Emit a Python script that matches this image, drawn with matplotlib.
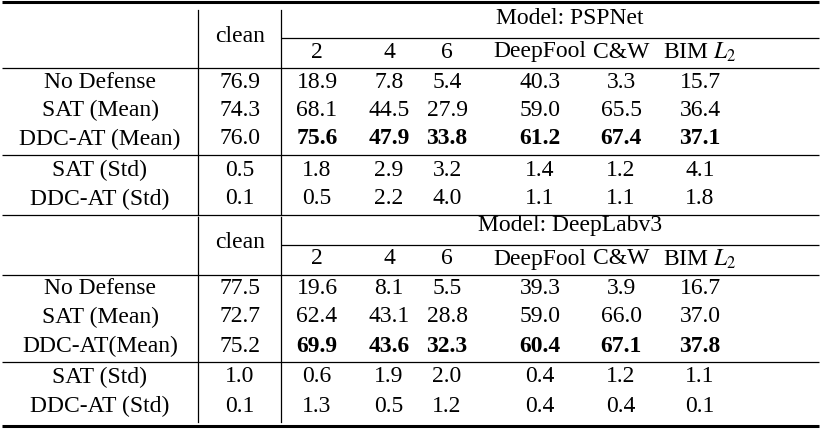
import matplotlib.pyplot as plt

plt.rcParams['font.family'] = ['Liberation Serif', 'DejaVu Serif']
plt.rcParams['mathtext.fontset'] = 'stix'

col_labels = ["2", "4", "6", "DeepFool", "C&W", r"BIM $L_2$"]
models = ["PSPNet", "DeepLabv3"]

psp_rows = ["No Defense", "SAT (Mean)", "DDC-AT (Mean)", "SAT (Std)", "DDC-AT (Std)"]
psp_vals = [
    ["76.9", "18.9", "7.8", "5.4", "40.3", "3.3", "15.7"],
    ["74.3", "68.1", "44.5", "27.9", "59.0", "65.5", "36.4"],
    ["76.0", "75.6", "47.9", "33.8", "61.2", "67.4", "37.1"],
    ["0.5", "1.8", "2.9", "3.2", "1.4", "1.2", "4.1"],
    ["0.1", "0.5", "2.2", "4.0", "1.1", "1.1", "1.8"],
]
dl_rows = ["No Defense", "SAT (Mean)", "DDC-AT(Mean)", "SAT (Std)", "DDC-AT (Std)"]
dl_vals = [
    ["77.5", "19.6", "8.1", "5.5", "39.3", "3.9", "16.7"],
    ["72.7", "62.4", "43.1", "28.8", "59.0", "66.0", "37.0"],
    ["75.2", "69.9", "43.6", "32.3", "60.4", "67.1", "37.8"],
    ["1.0", "0.6", "1.9", "2.0", "0.4", "1.2", "1.1"],
    ["0.1", "1.3", "0.5", "1.2", "0.4", "0.4", "0.1"],
]
bold_row = 2  # DDC-AT mean row is bold except the clean column

W, H = 821, 433
fig = plt.figure(figsize=(W / 100, H / 100), dpi=100)
ax = fig.add_axes([0, 0, 1, 1])
ax.set_xlim(0, W)
ax.set_ylim(H, 0)
ax.axis("off")

fs = 17
x_label = 100
x_cols = [240, 317, 389, 447, 540, 621, 700]
v1, v2 = 198, 281
x_left, x_right = 2, 819


def hline(y, x0=x_left, x1=x_right, lw=0.9):
    ax.plot([x0, x1], [y, y], color="black", lw=lw, solid_capstyle="butt")


def block(top, model, rows, vals):
    ax.text(x_cols[0], top + 26, "clean", ha="center", va="center", fontsize=fs)
    ax.text((v2 + x_right) / 2 + 20, top + 9, f"Model: {model}", ha="center", va="center", fontsize=fs)
    hline(top + 28, v2, x_right)
    for x, lab in zip(x_cols[1:], col_labels):
        ax.text(x, top + 42, lab, ha="center", va="center", fontsize=fs)
    hline(top + 58)
    ys = [top + 72, top + 100, top + 129, top + 160, top + 189]
    for i, (name, row) in enumerate(zip(rows, vals)):
        ax.text(x_label, ys[i], name, ha="center", va="center", fontsize=fs)
        for j, (x, v) in enumerate(zip(x_cols, row)):
            w = "bold" if (i == bold_row and j > 0) else "normal"
            ax.text(x, ys[i], v, ha="center", va="center", fontsize=fs, fontweight=w)
    hline(top + 145)
    for vx in (v1, v2):
        ax.plot([vx, vx], [top, top + 205], color="black", lw=0.9)


hline(1.5, lw=2.2)
block(10, models[0], psp_rows, psp_vals)
hline(215)
block(217, models[1], dl_rows, dl_vals)
hline(426, lw=2.2)

fig.savefig("out.png", dpi=100)
